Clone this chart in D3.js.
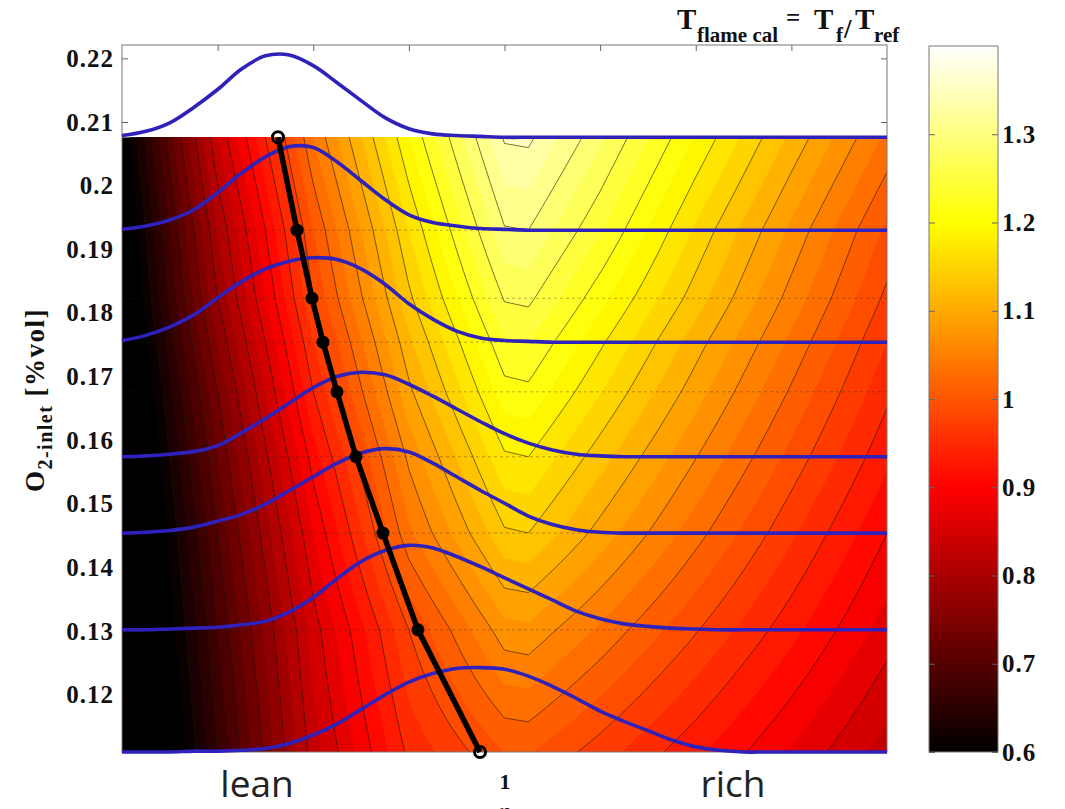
<!DOCTYPE html>
<html><head><meta charset="utf-8">
<script src="https://cdn.jsdelivr.net/npm/d3@7"></script>
<style>body{margin:0;background:#fff;} svg{display:block}</style>
</head><body><svg id="c" width="1065" height="809"></svg>
<script>
// ---------------- DATA ----------------
// Temperature field T_f/T_ref read on a grid: columns = equivalence ratio, rows = O2 inlet
const phiCols = [0.6, 0.7, 0.8, 0.9, 1.0, 1.025, 1.1, 1.2, 1.3, 1.4];
const o2Rows  = [0.2076, 0.1930, 0.1823, 0.1754, 0.1676, 0.1574, 0.1454, 0.1302, 0.1110];
const tempR1 = [0.58, 0.84, 1.04, 1.20, 1.343, 1.345, 1.285, 1.198, 1.115, 1.035];
const tempR2 = [0.56, 0.80, 1.00, 1.16, 1.298, 1.300, 1.242, 1.156, 1.075, 0.995];
const tempR3 = [0.55, 0.78, 0.98, 1.135, 1.262, 1.265, 1.207, 1.130, 1.052, 0.975];
const tempR4 = [0.54, 0.76, 0.96, 1.115, 1.237, 1.240, 1.184, 1.109, 1.035, 0.960];
const tempR5 = [0.53, 0.74, 0.94, 1.095, 1.212, 1.215, 1.161, 1.089, 1.017, 0.945];
const tempR6 = [0.52, 0.72, 0.91, 1.065, 1.177, 1.180, 1.129, 1.061, 0.993, 0.925];
const tempR7 = [0.51, 0.70, 0.88, 1.035, 1.137, 1.140, 1.092, 1.028, 0.964, 0.900];
const tempR8 = [0.50, 0.68, 0.85, 0.980, 1.072, 1.075, 1.036, 0.982, 0.927, 0.870];
const tempR9 = [0.48, 0.66, 0.83, 0.945, 1.000, 1.002, 0.970, 0.925, 0.878, 0.830];

// Blue distribution curves (normalised heights) at each baseline O2 level
const curvePhi = [0.6,0.625,0.65,0.675,0.7,0.725,0.75,0.775,0.8,0.825,0.85,0.875,0.9,0.925,0.95,0.975,1.0,1.025,1.05,1.075,1.1,1.125,1.15,1.175,1.2,1.225,1.25,1.275,1.3,1.325,1.35,1.375,1.4];
const curveBaseO2 = [0.2076, 0.1930, 0.1754, 0.1574, 0.1454, 0.1302, 0.1110];
const pdf1 = [0.02,0.07,0.17,0.35,0.56,0.80,0.955,0.965,0.84,0.64,0.43,0.23,0.10,0.04,0.02,0.01,0,0,0,0,0,0,0,0,0,0,0,0,0,0,0,0,0];
const pdf2 = [0.01,0.05,0.12,0.24,0.44,0.67,0.86,0.98,0.97,0.80,0.58,0.36,0.18,0.09,0.05,0.02,0.01,0,0,0,0,0,0,0,0,0,0,0,0,0,0,0,0];
const pdf3 = [0.02,0.08,0.18,0.32,0.52,0.71,0.86,0.95,0.99,0.97,0.86,0.68,0.45,0.27,0.13,0.05,0.02,0.01,0,0,0,0,0,0,0,0,0,0,0,0,0,0,0];
const pdf4 = [0,0.01,0.03,0.06,0.13,0.28,0.45,0.63,0.81,0.94,0.99,0.96,0.85,0.71,0.56,0.41,0.27,0.16,0.08,0.03,0.01,0,0,0,0,0,0,0,0,0,0,0,0];
const pdf5 = [0,0.01,0.03,0.07,0.14,0.22,0.34,0.50,0.66,0.82,0.94,0.99,0.95,0.82,0.66,0.50,0.35,0.20,0.10,0.04,0.01,0,0,0,0,0,0,0,0,0,0,0,0];
const pdf6 = [0,0,0.01,0.02,0.03,0.06,0.10,0.21,0.38,0.60,0.80,0.93,0.99,0.96,0.86,0.74,0.61,0.48,0.35,0.22,0.13,0.07,0.04,0.02,0.01,0,0,0,0,0,0,0,0];
const pdf7 = [0,0,0,0.01,0.01,0.02,0.04,0.10,0.20,0.33,0.50,0.67,0.82,0.92,0.98,0.99,0.97,0.89,0.77,0.63,0.48,0.36,0.25,0.14,0.06,0.02,0,0,0,0,0,0,0];
const pdfHeightO2 = 0.0134;

// Peak (black line) positions
const peakPhi = [0.7631, 0.7830, 0.7987, 0.8102, 0.8248, 0.8447, 0.8729, 0.9095, 0.9744];
const peakO2  = [0.2076, 0.1930, 0.1823, 0.1754, 0.1676, 0.1574, 0.1454, 0.1302, 0.1110];

// Ticks
const yTicks = [0.12, 0.13, 0.14, 0.15, 0.16, 0.17, 0.18, 0.19, 0.20, 0.21, 0.22];
const yTickLabels = ["0.12","0.13","0.14","0.15","0.16","0.17","0.18","0.19","0.2","0.21","0.22"];
const xTopTicks = [0.7, 0.8, 0.9, 1.0, 1.1, 1.2, 1.3];
const xTickLabelVals = [1.0];
const xTickLabels = ["1"];
const cbTicks = [0.6, 0.7, 0.8, 0.9, 1.0, 1.1, 1.2, 1.3];
const cbTickLabels = ["0.6","0.7","0.8","0.9","1","1.1","1.2","1.3"];

// ---------------- DRAWING ----------------
const tempRows = [tempR1,tempR2,tempR3,tempR4,tempR5,tempR6,tempR7,tempR8,tempR9];
const pdfs = [pdf1,pdf2,pdf3,pdf4,pdf5,pdf6,pdf7];
const svg = d3.select("#c");
const L = 122, R = 887, T = 45, B = 752;
const x = d3.scaleLinear().domain([0.6, 1.4]).range([L, R]);
const y = d3.scaleLinear().domain([0.111, 0.2221]).range([B, T]);
const color = d3.scaleLinear().domain([0.6, 0.9, 1.2, 1.4])
  .range(["#000000", "#ff0000", "#ffff00", "#ffffff"]).clamp(true);
const serif = "'Liberation Serif','Times New Roman',serif";

svg.append("rect").attr("width",1065).attr("height",809).attr("fill","#fff");

// axes (ticks under the image)
const axStyle = g => { g.select(".domain").remove(); g.selectAll(".tick line").attr("stroke","#666"); };
svg.append("g").attr("transform",`translate(${L},0)`)
  .call(d3.axisLeft(y).tickValues(yTicks).tickFormat((d,i)=>yTickLabels[i]).tickSize(-6).tickPadding(8))
  .call(axStyle)
  .call(g=>g.selectAll("text").attr("font-family",serif).attr("font-weight","bold")
     .attr("font-size",25).attr("fill","#111").attr("letter-spacing","1px"));
svg.append("g").attr("transform",`translate(${R},0)`)
  .call(d3.axisRight(y).tickValues(yTicks).tickFormat("").tickSize(-6)).call(axStyle);
svg.append("g").attr("transform",`translate(0,${T})`)
  .call(d3.axisTop(x).tickValues(xTopTicks).tickFormat("").tickSize(-6)).call(axStyle);
svg.append("g").attr("transform",`translate(0,${B})`)
  .call(d3.axisBottom(x).tickValues(xTickLabelVals).tickFormat((d,i)=>xTickLabels[i]).tickSize(0).tickPadding(21))
  .call(axStyle)
  .call(g=>g.selectAll("text").attr("font-family",serif).attr("font-weight","bold").attr("font-size",22).attr("fill","#111"));

// field interpolation
function field(phi, o2) {
  let i = 0; while (i < o2Rows.length - 2 && o2 < o2Rows[i+1]) i++;
  const fy = Math.max(0, Math.min(1, (o2Rows[i] - o2) / (o2Rows[i] - o2Rows[i+1])));
  let j = 0; while (j < phiCols.length - 2 && phi > phiCols[j+1]) j++;
  const fx = Math.max(0, Math.min(1, (phi - phiCols[j]) / (phiCols[j+1] - phiCols[j])));
  const a = tempRows[i][j], b = tempRows[i][j+1], c = tempRows[i+1][j], d = tempRows[i+1][j+1];
  return a*(1-fx)*(1-fy) + b*fx*(1-fy) + c*(1-fx)*fy + d*fx*fy;
}
const nx = 321, ny = 241;
const o2Top = o2Rows[0], o2Bot = o2Rows[o2Rows.length-1];
const dphi = 0.8/(nx-1), do2 = (o2Top-o2Bot)/(ny-1);
const grid = new Float64Array(nx*ny);
for (let j=0;j<ny;j++) for (let i=0;i<nx;i++) grid[j*nx+i] = field(0.6+i*dphi, o2Top-j*do2);
const proj = d3.geoTransform({point: function(px, py){
  this.stream.point(x(0.6+(px-0.5)*dphi), y(o2Top-(py-0.5)*do2)); }});
const gpath = d3.geoPath(proj);

const defs = svg.append("defs");
defs.append("clipPath").attr("id","fclip").append("rect")
  .attr("x",L).attr("y",y(o2Top)).attr("width",R-L).attr("height",B-y(o2Top));

const fillG = svg.append("g").attr("clip-path","url(#fclip)");
fillG.append("rect").attr("x",L).attr("y",y(o2Top)).attr("width",R-L).attr("height",B-y(o2Top)).attr("fill",color(0.5));
const fillLevels = d3.range(0.6, 1.4, 0.02);
const bands = d3.contours().size([nx, ny]).thresholds(fillLevels)(grid);
fillG.selectAll("path.band").data(bands).join("path").attr("class","band")
  .attr("d", d=>gpath(d)).attr("fill", d=>color(d.value+0.01)).attr("stroke", d=>color(d.value+0.01)).attr("stroke-width",0.3);

const lineLevels = d3.range(0.62, 1.4, 0.04);
const lines = d3.contours().size([nx, ny]).thresholds(lineLevels)(grid);
fillG.selectAll("path.iso").data(lines).join("path").attr("class","iso")
  .attr("d", d=>gpath(d)).attr("fill","none").attr("stroke","#1a1200").attr("stroke-opacity",0.6).attr("stroke-width",1);

// faint dotted grid rows
fillG.selectAll("line.row").data(o2Rows.slice(1, -1)).join("line").attr("class","row")
  .attr("x1",L).attr("x2",R).attr("y1",d=>y(d)).attr("y2",d=>y(d))
  .attr("stroke","#3a2000").attr("stroke-opacity",0.35).attr("stroke-dasharray","3,3");

// frame
svg.append("rect").attr("x",L).attr("y",T).attr("width",R-L).attr("height",B-T)
  .attr("fill","none").attr("stroke","#777").attr("stroke-width",1);

// blue curves
const line = d3.line().x(d=>x(d[0])).y(d=>y(d[1])).curve(d3.curveCatmullRom.alpha(0.5));
svg.append("g").selectAll("path").data(pdfs).join("path")
  .attr("d", (p,k)=>line(curvePhi.map((ph,i)=>[ph, curveBaseO2[k] + p[i]*pdfHeightO2])))
  .attr("fill","none").attr("stroke","#2f21bb").attr("stroke-width",3.6).attr("stroke-linejoin","round");

// black peak line
const pk = peakPhi.map((p,i)=>[p, peakO2[i]]);
svg.append("path").attr("d", d3.line().x(d=>x(d[0])).y(d=>y(d[1]))(pk))
  .attr("fill","none").attr("stroke","#000").attr("stroke-width",5.5);
svg.append("g").selectAll("circle").data(pk).join("circle")
  .attr("cx",d=>x(d[0])).attr("cy",d=>y(d[1])).attr("r",(d,i)=> (i===0||i===pk.length-1)?5.5:6.5)
  .attr("fill",(d,i)=> (i===0||i===pk.length-1)?"none":"#000")
  .attr("stroke","#000").attr("stroke-width",(d,i)=> (i===0||i===pk.length-1)?3:0);

// colorbar
const cb = d3.scaleLinear().domain([0.6, 1.4]).range([B, 46]);
const grad = defs.append("linearGradient").attr("id","hotg").attr("x1",0).attr("y1",1).attr("x2",0).attr("y2",0);
color.domain().forEach(v=>grad.append("stop").attr("offset",(v-0.6)/0.8).attr("stop-color",color(v)));
const CL = 929, CR = 998;
svg.append("rect").attr("x",CL).attr("y",46).attr("width",CR-CL).attr("height",B-46)
  .attr("fill","url(#hotg)").attr("stroke","#777").attr("stroke-width",1);
svg.append("g").attr("transform",`translate(${CR},0)`)
  .call(d3.axisRight(cb).tickValues(cbTicks).tickFormat((d,i)=>cbTickLabels[i]).tickSize(-6).tickPadding(4))
  .call(axStyle)
  .call(g=>g.selectAll("text").attr("font-family",serif).attr("font-weight","bold")
     .attr("font-size",25).attr("fill","#111").attr("letter-spacing","1px"));
svg.append("g").attr("transform",`translate(${CL},0)`)
  .call(d3.axisLeft(cb).tickValues(cbTicks).tickFormat("").tickSize(-6)).call(axStyle);

// title
const tt = svg.append("text").attr("font-family",serif).attr("font-weight","bold").attr("fill","#111");
[["T",677,29,29],["flame cal",697,42,21],["=",786,26,25],["T",814,29,29],["f",836,42,21],["/",844,38,27],["T",855,29,29],["ref",874,42,21]]
  .forEach(s=>tt.append("tspan").attr("x",s[1]).attr("y",s[2]).attr("font-size",s[3]).text(s[0]));

// y label
const yl = svg.append("text").attr("transform","translate(44,400) rotate(-90)").attr("text-anchor","middle")
  .attr("font-family",serif).attr("font-weight","bold").attr("fill","#111").attr("font-size",27).attr("letter-spacing","1.5px");
yl.append("tspan").text("O");
yl.append("tspan").attr("font-size",20).attr("dy",8).text("2-inlet");
yl.append("tspan").attr("dy",-8).text(" [%vol]");

// lean / rich
svg.append("text").attr("x",257).attr("y",797).attr("text-anchor","middle").attr("font-family","'Open Sans','Noto Sans',sans-serif")
  .attr("font-size",37).attr("fill","#222").text("lean");
svg.append("text").attr("x",733).attr("y",797).attr("text-anchor","middle").attr("font-family","'Open Sans','Noto Sans',sans-serif")
  .attr("font-size",37).attr("fill","#222").text("rich");
svg.append("text").attr("x",x(1.0)).attr("y",819).attr("text-anchor","middle").attr("font-family",serif)
  .attr("font-weight","bold").attr("font-size",24).attr("fill","#111").text("φ");
</script></body></html>
